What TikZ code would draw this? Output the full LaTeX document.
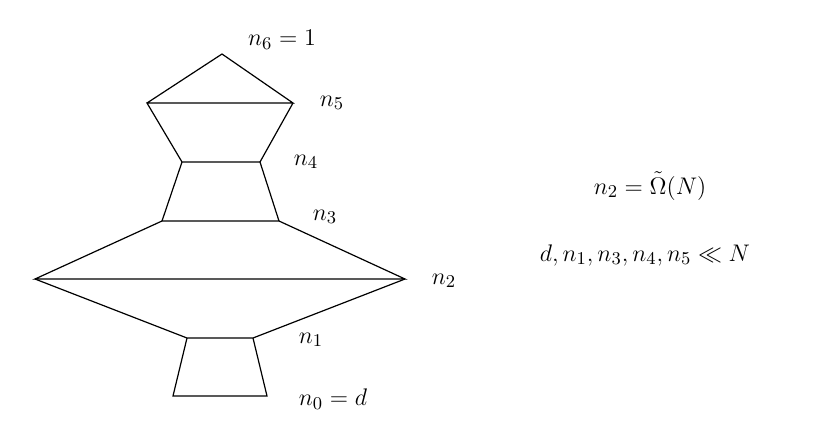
\documentclass[tikz,border=0pt]{standalone}
\begin{document}
\begin{tikzpicture}[x=0.5pt,y=-0.5pt,line width=0.6pt,lbl/.style={font=\fontsize{12.5}{15}\selectfont}]
\useasboundingbox (0,0) rectangle (814,425);
\coordinate (t) at (222,54);
\coordinate (a5) at (147,103); \coordinate (b5) at (293,103);
\coordinate (a4) at (182,162); \coordinate (b4) at (260,162);
\coordinate (a3) at (162,221); \coordinate (b3) at (279,221);
\coordinate (a2) at (35,279); \coordinate (b2) at (405,279);
\coordinate (a1) at (187,338); \coordinate (b1) at (253,338);
\coordinate (a0) at (173,396); \coordinate (b0) at (267,396);
\draw (a5) -- (t) -- (b5) -- (a5) -- (a4) -- (b4) -- (b5);
\draw (a4) -- (a3) -- (b3) -- (b4);
\draw (a3) -- (a2) -- (b2) -- (b3);
\draw (a2) -- (a1) -- (b1) -- (b2);
\draw (a1) -- (a0) -- (b0) -- (b1);
\node[lbl] (l6) at (282,40) {$n_6=1$};
\node[lbl] (l5) at (332,103) {$n_5$};
\node[lbl] (l4) at (306,162) {$n_4$};
\node[lbl] (l3) at (325,217) {$n_3$};
\node[lbl] (l2) at (444,281) {$n_2$};
\node[lbl] (l1) at (311,340) {$n_1$};
\node[lbl] (l0) at (333,399) {$n_0=d$};
\node[lbl] (r1) at (650,186) {$n_2=\tilde{\Omega}(N)$};
\node[lbl] (r2) at (645,255) {$d,n_1,n_3,n_4,n_5\ll N$};
\end{tikzpicture}
\end{document}
